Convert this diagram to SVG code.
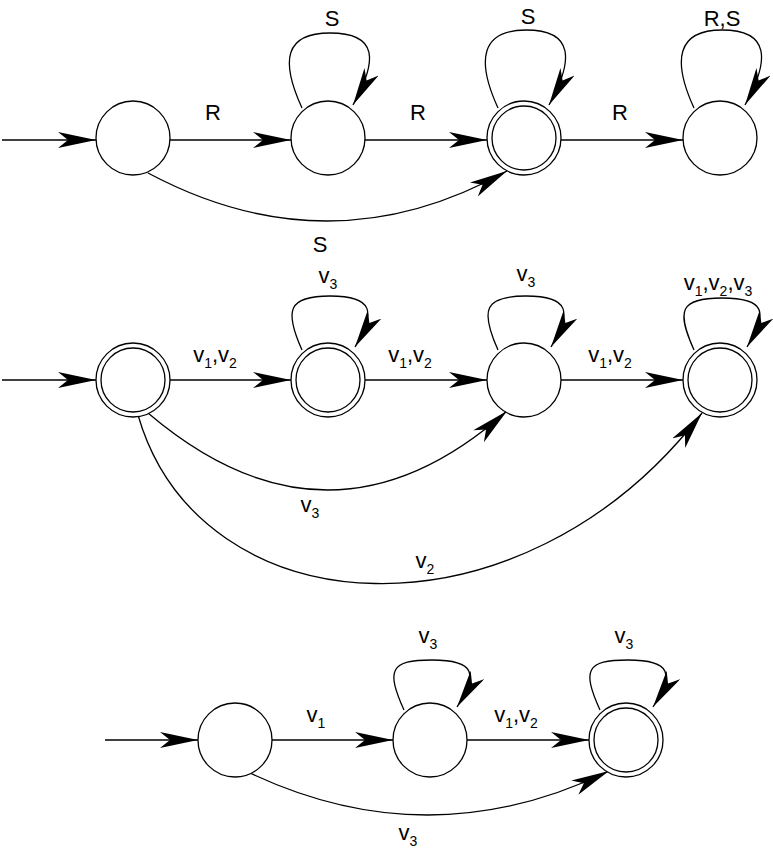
<svg xmlns="http://www.w3.org/2000/svg" width="773" height="857" viewBox="0 0 773 857">
<style>
.n{fill:#fff;stroke:#000;stroke-width:1.3}
.e{fill:none;stroke:#000;stroke-width:1.3;marker-end:url(#a)}
text{font-family:"Liberation Sans",Arial,sans-serif;font-size:22px;text-anchor:middle}
.s{font-size:14px}
</style>
<defs><marker id="a" markerUnits="userSpaceOnUse" markerWidth="40" markerHeight="20" refX="38" refY="8" orient="auto"><path d="M0,0 L38,8 L0,16 L10,8 z"/></marker></defs>
<g id="connectors">
<path class="e" d="M2,140 H96"/>
<path class="e" d="M170,140 H291"/>
<path class="e" d="M365,140 H487"/>
<path class="e" d="M561,140 H683"/>
<path class="e" d="M148,173 Q330,270 507,171"/>
<path class="e" d="M302,108 C280,60 285,33 330,33 C378,33 378,60 353,105"/>
<path class="e" d="M498,108 C476,60 481,30 526,30 C574,30 574,60 549,105"/>
<path class="e" d="M694,108 C672,60 677,30 722,30 C770,30 770,60 745,105"/>
<path class="e" d="M2,380 H96"/>
<path class="e" d="M170,380 H291"/>
<path class="e" d="M365,380 H487"/>
<path class="e" d="M561,380 H683"/>
<path class="e" d="M148,413 Q330,568 507,411"/>
<path class="e" d="M138,415 C200,630 520,650 702,413"/>
<path class="e" d="M302,350 C284,310 288,296 330,296 C374,296 376,312 355,347"/>
<path class="e" d="M498,350 C480,310 484,296 526,296 C570,296 572,312 551,347"/>
<path class="e" d="M694,350 C676,310 680,298 722,298 C766,298 768,312 747,347"/>
<path class="e" d="M105,740 H198"/>
<path class="e" d="M272,740 H393"/>
<path class="e" d="M467,740 H589"/>
<path class="e" d="M250,773 Q430,858 609,771"/>
<path class="e" d="M404,710 C386,670 390,660 432,660 C476,660 478,674 457,707"/>
<path class="e" d="M600,710 C582,670 586,660 628,660 C672,660 674,674 653,707"/>
</g>
<g id="r1">
<circle class="n" cx="133" cy="138" r="37"/>
<circle class="n" cx="328" cy="138" r="37"/>
<g><circle class="n" cx="524" cy="138" r="37"/><circle class="n" cx="524" cy="138" r="32"/></g>
<circle class="n" cx="720" cy="138" r="37"/>
</g>
<g id="r2">
<g><circle class="n" cx="133" cy="380" r="37"/><circle class="n" cx="133" cy="380" r="32"/></g>
<g><circle class="n" cx="328" cy="380" r="37"/><circle class="n" cx="328" cy="380" r="32"/></g>
<circle class="n" cx="524" cy="380" r="37"/>
<g><circle class="n" cx="720" cy="380" r="37"/><circle class="n" cx="720" cy="380" r="32"/></g>
</g>
<g id="r3">
<circle class="n" cx="235" cy="740" r="37"/>
<circle class="n" cx="430" cy="740" r="37"/>
<g><circle class="n" cx="626" cy="740" r="37"/><circle class="n" cx="626" cy="740" r="32"/></g>
</g>
<g id="labels">
<text x="213" y="120">R</text><text x="418" y="120">R</text><text x="620" y="120">R</text>
<text x="332" y="26">S</text><text x="528" y="24">S</text><text x="722" y="26">R,S</text>
<text x="320" y="252">S</text>
<text x="215" y="362">v<tspan class="s" dy="6">1</tspan><tspan dy="-6">,v</tspan><tspan class="s" dy="6">2</tspan></text>
<text x="410" y="362">v<tspan class="s" dy="6">1</tspan><tspan dy="-6">,v</tspan><tspan class="s" dy="6">2</tspan></text>
<text x="610" y="362">v<tspan class="s" dy="6">1</tspan><tspan dy="-6">,v</tspan><tspan class="s" dy="6">2</tspan></text>
<text x="328" y="283">v<tspan class="s" dy="6">3</tspan></text>
<text x="526" y="281">v<tspan class="s" dy="6">3</tspan></text>
<text x="718" y="290">v<tspan class="s" dy="6">1</tspan><tspan dy="-6">,v</tspan><tspan class="s" dy="6">2</tspan><tspan dy="-6">,v</tspan><tspan class="s" dy="6">3</tspan></text>
<text x="310" y="512">v<tspan class="s" dy="6">3</tspan></text>
<text x="425" y="568">v<tspan class="s" dy="6">2</tspan></text>
<text x="316" y="722">v<tspan class="s" dy="6">1</tspan></text>
<text x="516" y="722">v<tspan class="s" dy="6">1</tspan><tspan dy="-6">,v</tspan><tspan class="s" dy="6">2</tspan></text>
<text x="428" y="643">v<tspan class="s" dy="6">3</tspan></text>
<text x="624" y="643">v<tspan class="s" dy="6">3</tspan></text>
<text x="408" y="840">v<tspan class="s" dy="6">3</tspan></text>
</g>
</svg>
